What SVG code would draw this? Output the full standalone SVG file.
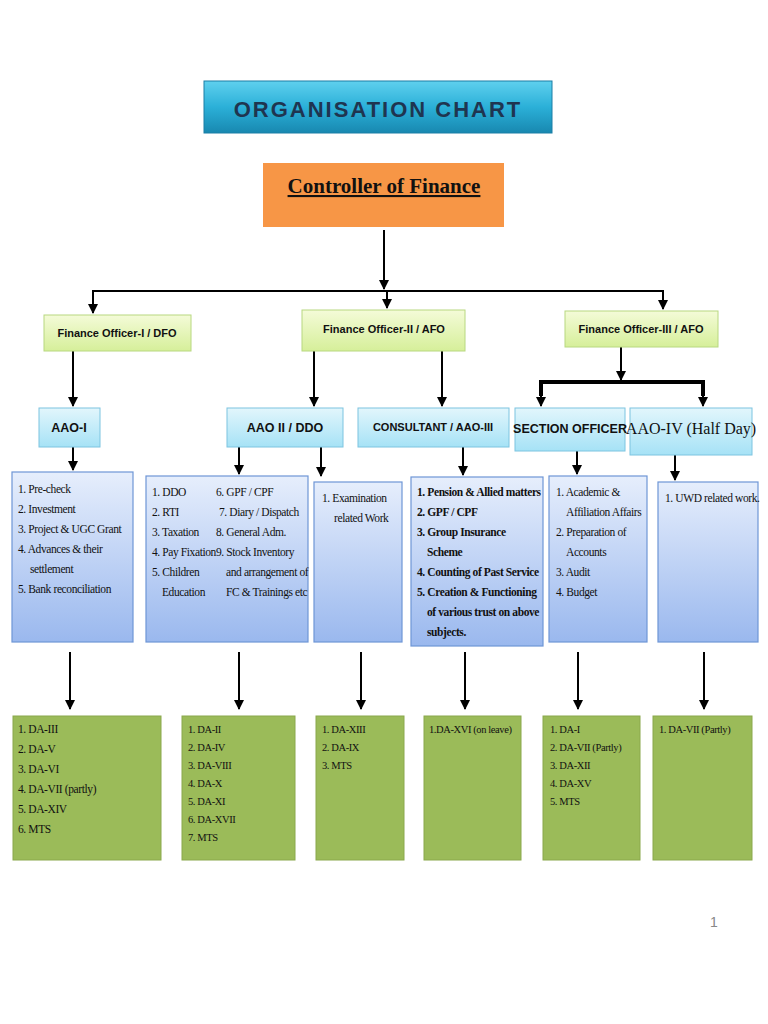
<svg xmlns="http://www.w3.org/2000/svg" width="768" height="1024" viewBox="0 0 768 1024">
<defs>
<linearGradient id="gTitle" x1="0" y1="0" x2="0" y2="1"><stop offset="0" stop-color="#5fd0ee"/><stop offset="0.5" stop-color="#2bb0d8"/><stop offset="1" stop-color="#1888b0"/></linearGradient>
<linearGradient id="gFO" x1="0" y1="0" x2="0" y2="1"><stop offset="0" stop-color="#f4fbd8"/><stop offset="1" stop-color="#d6ef9a"/></linearGradient>
<linearGradient id="gAAO" x1="0" y1="0" x2="0" y2="1"><stop offset="0" stop-color="#e2f6fc"/><stop offset="1" stop-color="#a6e2f6"/></linearGradient>
<linearGradient id="gBlue" x1="0" y1="0" x2="0" y2="1"><stop offset="0" stop-color="#e6eefc"/><stop offset="1" stop-color="#9ab8ee"/></linearGradient>
<marker id="ah" viewBox="0 0 10 10" refX="9" refY="5" markerWidth="5" markerHeight="5" orient="auto"><path d="M0,0 L10,5 L0,10 z" fill="#000"/></marker>
</defs>
<style>
.fo{fill:url(#gFO);stroke:#b8d880;stroke-width:1}
.aao{fill:url(#gAAO);stroke:#7cc4e0;stroke-width:1}
.blue{fill:url(#gBlue);stroke:#6e96d6;stroke-width:1.2}
.green{fill:#9bbb59;stroke:#8aa84c;stroke-width:1}
.hd{font-family:"Liberation Sans",Arial,sans-serif;font-weight:bold;fill:#111;text-anchor:middle}
.ls{font-family:"Liberation Serif","Times New Roman",serif;font-size:11.5px;fill:#111;letter-spacing:-0.4px}
.lb{font-family:"Liberation Serif","Times New Roman",serif;font-size:11.5px;font-weight:bold;fill:#111;letter-spacing:-0.4px}
.ln{stroke:#000;stroke-width:2;fill:none}
.la{stroke:#000;stroke-width:2;fill:none;marker-end:url(#ah)}
</style>
<rect width="768" height="1024" fill="#fff"/>

<g id="title">
<rect x="204" y="81" width="348" height="52" fill="url(#gTitle)" stroke="#1a7ea6"/>
<text x="378" y="117" class="hd" font-size="22" fill="#17365d" style="fill:#1f3550;letter-spacing:2px">ORGANISATION CHART</text>
</g>
<g id="controller">
<rect x="263" y="163" width="241" height="64" fill="#f79646"/>
<text x="384" y="193" font-family="Liberation Serif,serif" font-weight="bold" font-size="21" text-anchor="middle" text-decoration="underline" fill="#111">Controller of Finance</text>
</g>

<g id="connectors">
<line class="la" x1="384" y1="230" x2="384" y2="289"/>
<polyline class="ln" points="93,313 93,291 663,291 663,309"/>
<line class="la" x1="93" y1="291" x2="93" y2="313"/>
<line class="la" x1="387" y1="291" x2="387" y2="308"/>
<line class="la" x1="663" y1="291" x2="663" y2="309"/>
<line class="la" x1="73" y1="351" x2="73" y2="406"/>
<line class="la" x1="314" y1="351" x2="314" y2="406"/>
<line class="la" x1="442" y1="351" x2="442" y2="406"/>
<line class="la" x1="621" y1="347" x2="621" y2="380"/>
<polyline style="stroke:#000;stroke-width:4;fill:none" points="541,396 541,382 703,382 703,396"/>
<line class="la" x1="541" y1="390" x2="541" y2="406"/>
<line class="la" x1="703" y1="390" x2="703" y2="406"/>
<line class="la" x1="73" y1="447" x2="73" y2="470"/>
<line class="la" x1="239" y1="447" x2="239" y2="474"/>
<line class="la" x1="321" y1="447" x2="321" y2="476"/>
<line class="la" x1="463" y1="447" x2="463" y2="475"/>
<line class="la" x1="577" y1="451" x2="577" y2="474"/>
<line class="la" x1="675" y1="455" x2="675" y2="480"/>
<line class="la" x1="70" y1="652" x2="70" y2="709"/>
<line class="la" x1="239" y1="652" x2="239" y2="709"/>
<line class="la" x1="361" y1="652" x2="361" y2="709"/>
<line class="la" x1="465" y1="652" x2="465" y2="709"/>
<line class="la" x1="578" y1="652" x2="578" y2="709"/>
<line class="la" x1="704" y1="652" x2="704" y2="709"/>
</g>

<g id="fo1"><rect class="fo" x="44" y="315" width="147" height="36"/><text class="hd" x="117" y="337" font-size="11">Finance Officer-I / DFO</text></g>
<g id="fo2"><rect class="fo" x="302" y="310" width="163" height="41"/><text class="hd" x="384" y="333" font-size="11">Finance Officer-II / AFO</text></g>
<g id="fo3"><rect class="fo" x="565" y="311" width="153" height="36"/><text class="hd" x="641" y="333" font-size="11">Finance Officer-III / AFO</text></g>

<g id="aao1"><rect class="aao" x="39" y="408" width="61" height="39"/><text class="hd" x="69" y="432" font-size="12.5">AAO-I</text></g>
<g id="aao2"><rect class="aao" x="227" y="408" width="116" height="39"/><text class="hd" x="285" y="432" font-size="12.5">AAO II / DDO</text></g>
<g id="consultant"><rect class="aao" x="358" y="408" width="151" height="39"/><text class="hd" x="433" y="431" font-size="11">CONSULTANT / AAO-III</text></g>
<g id="so"><rect class="aao" x="515" y="408" width="110" height="43"/><text class="hd" x="570" y="433" font-size="12.5">SECTION OFFICER</text></g>
<g id="aao4"><rect class="aao" x="630" y="408" width="122" height="47"/><text x="691" y="434" font-family="Liberation Serif,serif" font-size="16" text-anchor="middle" fill="#111">AAO-IV (Half Day)</text></g>

<g id="b1"><rect class="blue" x="12" y="472" width="121" height="170"/>
<text class="ls" x="18" y="493">1. Pre-check</text><text class="ls" x="18" y="513">2. Investment</text><text class="ls" x="18" y="533">3. Project &amp; UGC Grant</text><text class="ls" x="18" y="553">4. Advances &amp; their</text><text class="ls" x="30" y="573">settlement</text><text class="ls" x="18" y="593">5. Bank reconciliation</text></g>
<g id="b2"><rect class="blue" x="146" y="476" width="162" height="166"/>
<text class="ls" x="152" y="496">1. DDO</text><text class="ls" x="152" y="516">2. RTI</text><text class="ls" x="152" y="536">3. Taxation</text><text class="ls" x="152" y="556">4. Pay Fixation</text><text class="ls" x="152" y="576">5. Children</text><text class="ls" x="162" y="596">Education</text>
<text class="ls" x="216" y="496">6. GPF / CPF</text><text class="ls" x="219" y="516">7. Diary / Dispatch</text><text class="ls" x="216" y="536">8. General Adm.</text><text class="ls" x="216" y="556">9. Stock Inventory</text><text class="ls" x="226" y="576">and arrangement of</text><text class="ls" x="226" y="596">FC &amp; Trainings etc</text></g>
<g id="b3"><rect class="blue" x="314" y="482" width="88" height="160"/>
<text class="ls" x="322" y="502">1.  Examination</text><text class="ls" x="334" y="522">related Work</text></g>
<g id="b4"><rect class="blue" x="411" y="477" width="132" height="169"/>
<text class="lb" x="417" y="496">1. Pension &amp; Allied  matters</text><text class="lb" x="417" y="516">2. GPF / CPF</text><text class="lb" x="417" y="536">3. Group Insurance</text><text class="lb" x="427" y="556">Scheme</text><text class="lb" x="417" y="576">4. Counting of Past  Service</text><text class="lb" x="417" y="596">5. Creation &amp;   Functioning</text><text class="lb" x="427" y="616">of  various trust on  above</text><text class="lb" x="427" y="636">subjects.</text></g>
<g id="b5"><rect class="blue" x="549" y="476" width="98" height="166"/>
<text class="ls" x="556" y="496">1. Academic &amp;</text><text class="ls" x="566" y="516">Affiliation Affairs</text><text class="ls" x="556" y="536">2. Preparation of</text><text class="ls" x="566" y="556">Accounts</text><text class="ls" x="556" y="576">3. Audit</text><text class="ls" x="556" y="596">4. Budget</text></g>
<g id="b6"><rect class="blue" x="658" y="482" width="100" height="160"/>
<text class="ls" x="665" y="502">1. UWD related work.</text></g>

<g id="g1"><rect class="green" x="13" y="716" width="148" height="144"/>
<text class="ls" x="18" y="733">1. DA-III</text><text class="ls" x="18" y="753">2. DA-V</text><text class="ls" x="18" y="773">3. DA-VI</text><text class="ls" x="18" y="793">4. DA-VII (partly)</text><text class="ls" x="18" y="813">5. DA-XIV</text><text class="ls" x="18" y="833">6. MTS</text></g>
<g id="g2"><rect class="green" x="182" y="716" width="113" height="144"/>
<g font-size="10.5"><text class="ls" x="188" y="733" style="font-size:10.5px">1. DA-II</text><text class="ls" x="188" y="751" style="font-size:10.5px">2. DA-IV</text><text class="ls" x="188" y="769" style="font-size:10.5px">3. DA-VIII</text><text class="ls" x="188" y="787" style="font-size:10.5px">4. DA-X</text><text class="ls" x="188" y="805" style="font-size:10.5px">5. DA-XI</text><text class="ls" x="188" y="823" style="font-size:10.5px">6. DA-XVII</text><text class="ls" x="188" y="841" style="font-size:10.5px">7. MTS</text></g></g>
<g id="g3"><rect class="green" x="316" y="716" width="88" height="144"/>
<text class="ls" x="322" y="733" style="font-size:10.5px">1. DA-XIII</text><text class="ls" x="322" y="751" style="font-size:10.5px">2. DA-IX</text><text class="ls" x="322" y="769" style="font-size:10.5px">3. MTS</text></g>
<g id="g4"><rect class="green" x="424" y="716" width="97" height="144"/>
<text class="ls" x="429" y="733" style="font-size:10.5px">1.DA-XVI (on leave)</text></g>
<g id="g5"><rect class="green" x="543" y="716" width="97" height="144"/>
<text class="ls" x="550" y="733" style="font-size:10.5px">1. DA-I</text><text class="ls" x="550" y="751" style="font-size:10.5px">2. DA-VII (Partly)</text><text class="ls" x="550" y="769" style="font-size:10.5px">3. DA-XII</text><text class="ls" x="550" y="787" style="font-size:10.5px">4. DA-XV</text><text class="ls" x="550" y="805" style="font-size:10.5px">5. MTS</text></g>
<g id="g6"><rect class="green" x="653" y="716" width="99" height="144"/>
<text class="ls" x="659" y="733" style="font-size:10.5px">1. DA-VII (Partly)</text></g>

<text x="714" y="927" font-family="Liberation Sans,sans-serif" font-size="14" fill="#888" text-anchor="middle">1</text>
</svg>
